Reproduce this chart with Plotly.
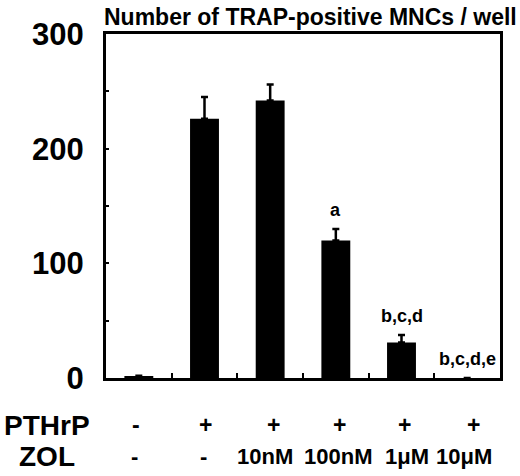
import plotly.graph_objects as go

# 数据：各组 TRAP 阳性多核细胞数（均值 + 上误差）
groups = ["ctrl", "PTHrP", "10nM", "100nM", "1uM", "10uM"]
means = [1.5, 226, 242, 120, 31, 0]
errors = [0.5, 19, 14, 10, 6.5, None]
pthrp_row = ["-", "+", "+", "+", "+", "+"]
zol_row = ["-", "-", "10nM", "100nM", "1μM", "10μM"]
sig_labels = {3: "a", 4: "b,c,d", 5: "b,c,d,e"}
y_ticks = [0, 50, 100, 150, 200, 250, 300]
y_ticktext = ["0", "", "100", "", "200", "", "300"]

FONT = "Liberation Sans, Arial, sans-serif"
x = list(range(len(groups)))

# 条件标签的微调偏移（像素），原图标签并不完全居中于柱子
pthrp_dx = [-3, 1, 3, 4, 3, 6]
zol_dx = [-4, -1, -5, 2, 5, -3]

fig = go.Figure()
fig.add_trace(
    go.Bar(
        x=x,
        y=means,
        marker=dict(color="black", line=dict(width=0)),
        error_y=dict(
            type="data",
            symmetric=False,
            array=errors,
            arrayminus=[0] * len(errors),
            color="black",
            thickness=2.5,
            width=3.5,
        ),
        showlegend=False,
    )
)

# 显著性标记
for i, txt in sig_labels.items():
    top = means[i] + (errors[i] or 0)
    fig.add_annotation(
        x=i, y=top, xref="x", yref="y",
        text=f"<b>{txt}</b>", showarrow=False,
        yanchor="middle", yshift=19,
        font=dict(family=FONT, size=18, color="black"),
    )

# 下方两行处理条件
for i in x:
    fig.add_annotation(
        x=i, y=0, xref="x", yref="paper", text=f"<b>{pthrp_row[i]}</b>",
        showarrow=False, yanchor="middle", yshift=-47, xshift=pthrp_dx[i],
        font=dict(family=FONT, size=23, color="black"),
    )
    fig.add_annotation(
        x=i, y=0, xref="x", yref="paper", text=f"<b>{zol_row[i]}</b>",
        showarrow=False, yanchor="middle", yshift=-78, xshift=zol_dx[i],
        font=dict(family=FONT, size=22, color="black"),
    )
for txt, shift in [("PTHrP", -47), ("ZOL", -78)]:
    fig.add_annotation(
        x=-0.15, y=0, xref="paper", yref="paper", text=f"<b>{txt}</b>",
        showarrow=False, xanchor="center", yanchor="middle", yshift=shift,
        font=dict(family=FONT, size=28, color="black"),
    )

fig.add_annotation(
    x=0.518, y=1, xref="paper", yref="paper",
    text="<b>Number of TRAP-positive MNCs / well</b>",
    showarrow=False, xanchor="center", yanchor="bottom", yshift=2,
    font=dict(family=FONT, size=23, color="black"),
)

fig.update_xaxes(
    range=[-0.5, 5.5],
    tickvals=[0.5, 1.5, 2.5, 3.5, 4.5],
    showticklabels=False,
    ticks="inside", ticklen=5, tickwidth=2, tickcolor="black",
    showline=True, linecolor="black", linewidth=3, mirror=True,
    showgrid=False, zeroline=False, automargin=False,
)
fig.update_yaxes(
    range=[0, 300],
    tickvals=y_ticks, ticktext=[f"<b>{t}</b>" for t in y_ticktext],
    ticks="inside", ticklen=3, tickwidth=2, tickcolor="black",
    ticklabelstandoff=13,
    tickfont=dict(family=FONT, size=31, color="black"),
    showline=True, linecolor="black", linewidth=3, mirror=True,
    showgrid=False, zeroline=False, automargin=False,
)
fig.update_layout(
    width=520,
    height=476,
    margin=dict(l=106, r=20, t=34, b=98),
    plot_bgcolor="white",
    paper_bgcolor="white",
    bargap=0.56,
    font=dict(family=FONT, color="black"),
)
# 去掉页面默认边距，让图从左上角开始；隐藏工具栏
fig.write_html(
    "out.html",
    config={"displayModeBar": False},
    post_script="document.body.style.margin='0';",
)
